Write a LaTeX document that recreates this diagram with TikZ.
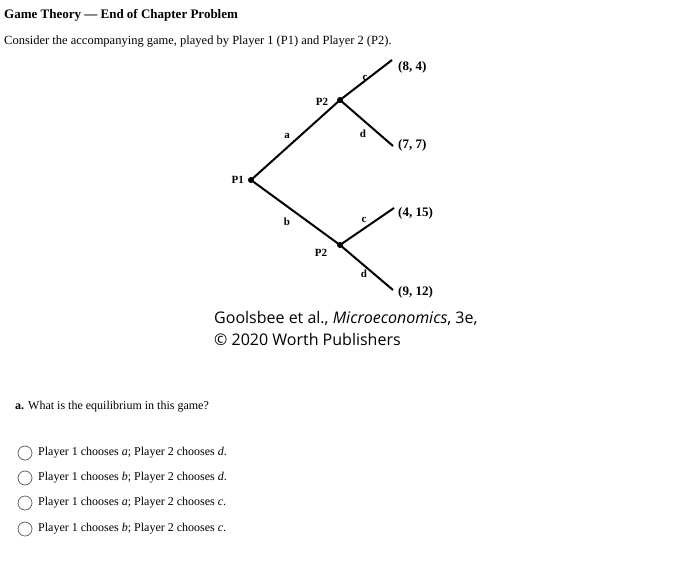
\documentclass[tikz,border=0pt]{standalone}
\usepackage{fontspec}
\setmainfont{Liberation Serif}
\newfontfamily\credfont{Open Sans}
\begin{document}
\begin{tikzpicture}[x=1pt,y=-1pt,
  txt/.style={anchor=west,inner sep=0pt,font=\fontsize{12.5}{14}\selectfont},
  lbl/.style={inner sep=0pt,font=\bfseries\fontsize{11}{12}\selectfont},
  pay/.style={anchor=west,inner sep=0pt,font=\bfseries\fontsize{13}{14}\selectfont},
  br/.style={line width=2pt},
  dotn/.style={circle,fill,inner sep=0pt,minimum size=6pt},
  opt/.style={anchor=west,inner sep=0pt,font=\fontsize{12}{14}\selectfont},
  radio/.style={circle,draw=black!60,line width=0.8pt,minimum size=14pt,inner sep=0pt}]
\useasboundingbox (0,0) rectangle (700,573);
\node[txt,font=\bfseries\fontsize{13}{15}\selectfont] (title) at (4,15) {Game Theory — End of Chapter Problem};
\node[txt] (intro) at (4,42) {Consider the accompanying game, played by Player 1 (P1) and Player 2 (P2).};
% tree
\node[dotn] (p1) at (251,180) {};
\node[dotn] (p2u) at (340,100) {};
\node[dotn] (p2l) at (340,245) {};
\coordinate (uc) at (392,60);
\coordinate (ud) at (393,146);
\coordinate (lc) at (394,208);
\coordinate (ld) at (393,290);
\draw[br] (p1.center) -- (p2u.center);
\draw[br] (p1.center) -- (p2l.center);
\draw[br] (p2u.center) -- (uc);
\draw[br] (p2u.center) -- (ud);
\draw[br] (p2l.center) -- (lc);
\draw[br] (p2l.center) -- (ld);
\node[lbl,anchor=east] (lp1) at (244,180) {P1};
\node[lbl] (lp2u) at (322,102) {P2};
\node[lbl] (lp2l) at (321,253) {P2};
\node[lbl] (la) at (287,136) {a};
\node[lbl] (lb) at (287,222) {b};
\node[lbl] (luc) at (365,78) {c};
\node[lbl] (lud) at (363,134) {d};
\node[lbl] (llc) at (364,220) {c};
\node[lbl] (lld) at (364,274) {d};
\node[pay] (pa) at (398,67) {(8, 4)};
\node[pay] (pb) at (398,145) {(7, 7)};
\node[pay] (pc) at (398,213) {(4, 15)};
\node[pay] (pd) at (398,292) {(9, 12)};
\node[anchor=west,inner sep=0pt,font=\credfont\fontsize{16}{18}\selectfont] (cr1) at (214,318) {Goolsbee et al., \emph{Microeconomics}, 3e,};
\node[anchor=west,inner sep=0pt,font=\credfont\fontsize{16}{18}\selectfont] (cr2) at (214,339) {© 2020 Worth Publishers};
\node[txt,font=\fontsize{12}{14}\selectfont] (q) at (15,407) {\textbf{a.} What is the equilibrium in this game?};
\foreach \y/\t [count=\i] in {453/{Player 1 chooses \emph{a}; Player 2 chooses \emph{d}.},
  478/{Player 1 chooses \emph{b}; Player 2 chooses \emph{d}.},
  503/{Player 1 chooses \emph{a}; Player 2 chooses \emph{c}.},
  529/{Player 1 chooses \emph{b}; Player 2 chooses \emph{c}.}}{
  \node[radio] (r\i) at (25,\y) {};
  \node[opt] (o\i) at (38,\y) {\t};
}
\end{tikzpicture}
\end{document}
